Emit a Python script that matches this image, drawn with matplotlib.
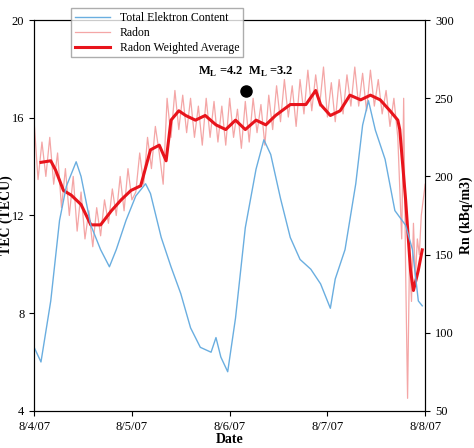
import matplotlib
matplotlib.use("Agg")
import matplotlib.pyplot as plt

plt.rcParams['font.family'] = ['Liberation Serif', 'DejaVu Serif']

tec_day = [0,0.07,0.17,0.26,0.33,0.43,0.48,0.58,0.68,0.77,0.84,0.94,1.04,1.14,1.19,1.30,1.40,1.50,1.60,1.70,1.81,1.86,1.91,1.98,2.06,2.16,2.27,2.35,2.42,2.52,2.62,2.72,2.83,2.93,3.03,3.08,3.18,3.29,3.36,3.42,3.49,3.59,3.69,3.80,3.87,3.93,3.97]
tec_val = [6.6,6.0,8.5,11.8,13.2,14.2,13.6,11.6,10.6,9.9,10.6,11.8,12.8,13.3,12.9,11.1,9.9,8.8,7.4,6.6,6.4,7.0,6.2,5.6,7.8,11.5,13.9,15.1,14.5,12.7,11.1,10.2,9.8,9.2,8.2,9.4,10.6,13.3,15.7,16.7,15.5,14.3,12.2,11.6,10.6,8.5,8.3]

avg_day = [0.07,0.17,0.22,0.30,0.38,0.48,0.58,0.68,0.79,0.89,0.99,1.09,1.19,1.28,1.35,1.40,1.48,1.55,1.65,1.75,1.86,1.96,2.06,2.16,2.27,2.37,2.47,2.62,2.78,2.88,2.93,3.03,3.13,3.23,3.34,3.44,3.54,3.64,3.72,3.74,3.80,3.85,3.88,3.93,3.97]
avg_val = [209,210,204,191,188,182,169,169,178,185,191,194,217,220,210,236,242,239,236,239,233,230,236,230,236,233,239,246,246,255,246,239,242,252,249,252,249,242,236,230,185,140,127,140,153]

raw_day = [0.00,0.04,0.08,0.12,0.16,0.20,0.24,0.28,0.32,0.36,0.40,0.44,0.48,0.52,0.56,0.60,0.64,0.68,0.72,0.76,0.80,0.84,0.88,0.92,0.96,1.00,1.04,1.08,1.12,1.16,1.20,1.24,1.28,1.32,1.36,1.40,1.44,1.48,1.52,1.56,1.60,1.64,1.68,1.72,1.76,1.80,1.84,1.88,1.92,1.96,2.00,2.04,2.08,2.12,2.16,2.20,2.24,2.28,2.32,2.36,2.40,2.44,2.48,2.52,2.56,2.60,2.64,2.68,2.72,2.76,2.80,2.84,2.88,2.92,2.96,3.00,3.04,3.08,3.12,3.16,3.20,3.24,3.28,3.32,3.36,3.40,3.44,3.48,3.52,3.56,3.60,3.64,3.68,3.72,3.76,3.78,3.80,3.82,3.84,3.86,3.88,3.90,3.92,3.94,3.96,4.00]
raw_val = [235,198,222,200,225,195,215,180,205,175,200,165,190,160,178,155,180,162,185,170,192,175,200,178,205,185,190,215,195,225,205,232,215,195,250,225,255,230,252,228,250,225,245,220,250,225,248,222,245,220,250,225,243,218,248,222,250,228,246,220,252,230,258,235,262,238,258,232,262,240,268,242,265,245,270,238,260,235,262,240,265,245,270,245,266,242,268,245,262,240,255,232,250,225,160,250,140,58,150,120,170,135,160,150,175,195]

fig, ax = plt.subplots(figsize=(4.74, 4.48), dpi=100)
fig.subplots_adjust(left=0.072, right=0.897, top=0.955, bottom=0.083)
ax2 = ax.twinx()
l2, = ax2.plot(raw_day, raw_val, color='#f4a6a6', lw=0.9, label='Radon')
l3, = ax2.plot(avg_day, avg_val, color='#e8141c', lw=2.2, label='Radon Weighted Average')
l1, = ax.plot(tec_day, tec_val, color='#6aaee0', lw=1.0, label='Total Elektron Content')
ax.set_zorder(ax2.get_zorder() + 1)
ax.patch.set_visible(False)
ax.plot([2.17], [17.1], 'o', color='black', ms=8)
ax.text(2.17, 17.75, r'M$_\mathregular{L}$ =4.2  M$_\mathregular{L}$ =3.2', ha='center', fontsize=9, fontweight='bold')

ax.set_xlim(0, 4)
ax.set_ylim(4, 20)
ax.set_yticks([4, 8, 12, 16, 20])
ax2.set_ylim(50, 300)
ax2.set_yticks(range(50, 301, 50))
ax.set_xticks([0, 1, 2, 3, 4])
ax.set_xticklabels(['8/4/07', '8/5/07', '8/6/07', '8/7/07', '8/8/07'])
ax.set_xlabel('Date', fontweight='bold', fontsize=10, labelpad=0)
ax.set_ylabel('TEC (TECU)', fontweight='bold', fontsize=10, labelpad=-1)
ax2.set_ylabel('Rn (kBq/m3)', fontweight='bold', fontsize=10)
for a in (ax, ax2):
    a.tick_params(labelsize=9)
leg = ax.legend(handles=[l1, l2, l3], loc='upper left', bbox_to_anchor=(0.08, 1.045), fontsize=8.5,
                frameon=True, fancybox=False, edgecolor='#999999', handlelength=3, labelspacing=0.25,
                borderpad=0.3)
leg.set_zorder(10)
fig.savefig('out.png')
